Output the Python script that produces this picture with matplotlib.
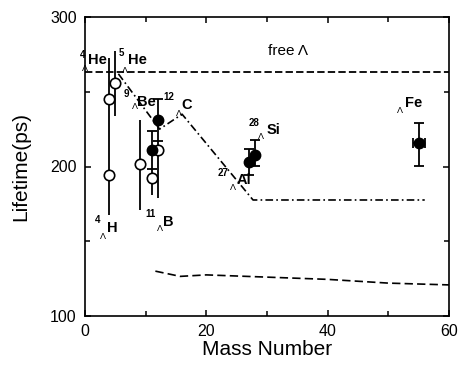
import matplotlib
matplotlib.use("Agg")
import matplotlib.pyplot as plt
from matplotlib.transforms import offset_copy
from matplotlib.ticker import MultipleLocator

plt.rcParams['font.family'] = ['Liberation Sans', 'DejaVu Sans']
plt.rcParams['lines.scale_dashes'] = False

# ---- data ----
# open-circle measurements (no caps)
A_open = [4, 4, 5, 9, 11, 12]
tau_open = [194, 245, 256, 201.5, 192, 211]
open_err_lo = [26.5, 27, 22, 30.5, 11, 32]
open_err_hi = [24, 27.5, 21, 29.5, 6, 6]

# filled-circle measurements (with caps)
A_fill = [11, 12, 27, 28]
tau_fill = [211, 231, 203, 207.5]
fill_err_lo = [13, 14, 9, 7]
fill_err_hi = [13, 14, 9, 10]

# Fe measurement
A_fe = [55]
tau_fe = [215.5]
fe_err_lo = [15]
fe_err_hi = [13.5]
fe_xerr = [1]

# free Lambda lifetime
tau_free = 263

# calculation curves
calc1_A = [5.5, 12.3, 16, 27.7, 56]
calc1_tau = [262, 225, 235, 177.6, 177.6]
calc2_A = [11.6, 15.7, 20, 30, 40, 50, 60]
calc2_tau = [130, 126.5, 127.5, 126, 124.5, 122, 120.8]

# hypernucleus labels: (mass superscript, element)
label_mass = ['4', '5', '9', '12', '4', '11', '27', '28', '']
label_elem = ['He', 'He', 'Be', 'C', 'H', 'B', 'Al', 'Si', 'Fe']
label_x = [0.5, 7.05, 8.5, 15.9, 3.7, 12.9, 25.0, 29.9, 52.7]
label_y = [271.2, 271.2, 243.3, 241.1, 158.7, 163.1, 191.0, 224.4, 242.3]
# offsets (px) of superscript number and Lambda relative to element text
num_dx = [-5, -6, -10, -13, -10, -13, -14, -12, 0]
num_dy = [5, 7, 8, 8, 8, 8, 7, 7, 0]
lam_dx = [-3, -3, -2, -3, -4, -3, -4, -5, -5]
lam_dy = [-8, -10, -5, -8, -8, -7, -8, -6, -7]

fig = plt.figure(figsize=(4.74, 3.69), dpi=100)
ax = fig.add_axes([85/474, 1-316/369, 364/474, 299/369])

ax.set_xlim(0, 60)
ax.set_ylim(100, 300)

# free lambda line
ax.axhline(tau_free, color='black', lw=1.3, linestyle=(0, (5.3, 2.3)))
ax.text(33.4, 277.5, 'free Λ', fontsize=11, ha='center', va='center')

# calc curves
ax.plot(calc1_A, calc1_tau, color='black', lw=1.2,
        linestyle=(0, (5.5, 2.3, 1.2, 2.3)))
ax.plot(calc2_A, calc2_tau, color='black', lw=1.2,
        linestyle=(0, (6, 3)))

# open points
ax.errorbar(A_open, tau_open, yerr=[open_err_lo, open_err_hi], fmt='o',
            mfc='white', mec='black', mew=1.2, ms=7.5, ecolor='black',
            elinewidth=1.3, capsize=0, zorder=3)
# filled points
ax.errorbar(A_fill, tau_fill, yerr=[fill_err_lo, fill_err_hi], fmt='o',
            mfc='black', mec='black', ms=7.5, ecolor='black',
            elinewidth=1.3, capsize=3.8, capthick=1.3, zorder=4)
ax.errorbar(A_fe, tau_fe, yerr=[fe_err_lo, fe_err_hi], xerr=fe_xerr, fmt='o',
            mfc='black', mec='black', ms=7.5, ecolor='black',
            elinewidth=1.3, capsize=3.8, capthick=1.3, zorder=4)

# labels
for m, e, x, y, ndx, ndy, ldx, ldy in zip(label_mass, label_elem, label_x,
                                          label_y, num_dx, num_dy, lam_dx, lam_dy):
    ax.text(x, y, e, fontsize=10.5, fontweight='bold', ha='left', va='center',
            zorder=5)
    if m:
        tr = offset_copy(ax.transData, fig=fig, x=ndx, y=ndy, units='dots')
        ax.text(x, y, m, fontsize=7, fontweight='bold', ha='center',
                va='center', transform=tr)
    tr2 = offset_copy(ax.transData, fig=fig, x=ldx, y=ldy, units='dots')
    ax.text(x, y, 'Λ', fontsize=6.5, ha='center', va='center', transform=tr2)

# axes styling
ax.xaxis.set_major_locator(MultipleLocator(20))
ax.xaxis.set_minor_locator(MultipleLocator(10))
ax.yaxis.set_major_locator(MultipleLocator(100))
ax.yaxis.set_minor_locator(MultipleLocator(50))
ax.tick_params(which='both', direction='in', top=True, right=True,
               labelsize=11.5, width=1.1, pad=6)
ax.tick_params(which='major', length=4)
ax.tick_params(which='minor', length=3.5)
for s in ax.spines.values():
    s.set_linewidth(1.2)

ax.set_xlabel('Mass Number', fontsize=15)
ax.set_ylabel('Lifetime(ps)', fontsize=15)
ax.xaxis.set_label_coords(0.5, -0.08)
ax.yaxis.set_label_coords(-0.15, 0.5)

fig.savefig('out.png', dpi=100)
